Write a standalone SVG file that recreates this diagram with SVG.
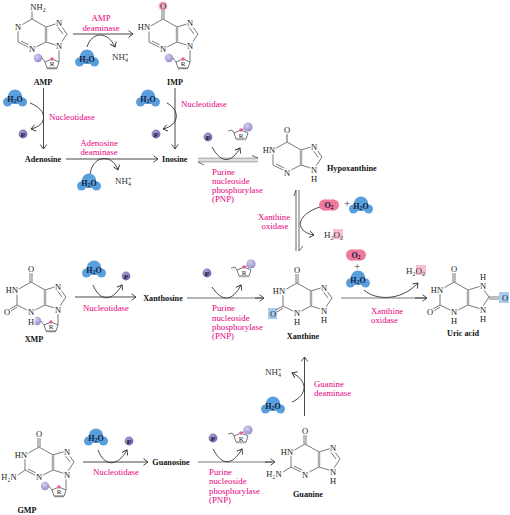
<svg xmlns="http://www.w3.org/2000/svg" width="510" height="515" viewBox="0 0 510 515">
<style>
text{font-family:"Liberation Serif","DejaVu Serif",serif;fill:#222}
.a{font-size:8.500px;text-anchor:middle;paint-order:stroke;stroke:#fff;stroke-width:2.5px}
.n{font-size:9px;fill:#333}
.b{font-size:8.200px;font-weight:bold;fill:#111}
.c{text-anchor:middle}
.p{font-size:8.800px;fill:#e6007e}
.w{font-size:8px;font-weight:bold;text-anchor:middle;fill:#102040}
.pt{font-size:7px;font-weight:bold;text-anchor:middle;fill:#111}
.r{font-size:7px;text-anchor:middle;fill:#222}
.s{font-size:6px}
.l{fill:none;stroke:#444;stroke-width:.8}
.h{fill:none;stroke:#bbb;stroke-width:1.8}
.t{fill:none;stroke:#333;stroke-width:.9;marker-end:url(#ah)}
.bd{fill:none;stroke:#555;stroke-width:.8}
</style>
<defs>
<marker id="ah" markerUnits="userSpaceOnUse" markerWidth="9" markerHeight="9" refX="5.500" refY="4" orient="auto"><path d="M1,.7 L5.500,4 L1,7.300" fill="none" stroke="#333" stroke-width=".9"/></marker>
<radialGradient id="ball" cx=".4" cy=".35" r=".7"><stop offset="0" stop-color="#d4d0ee"/><stop offset="1" stop-color="#9088c8"/></radialGradient>
<radialGradient id="pball" cx=".4" cy=".35" r=".7"><stop offset="0" stop-color="#a8a0d8"/><stop offset="1" stop-color="#6a60a8"/></radialGradient>
<g id="ring"><path class="bd" d="M0,0 L-14,8 L-14,23 L0,30 L14,23 L14,8 Z M14,8 L27,4 L35,15 L27,27 L14,23"/><path d="M14,9 V22" stroke="#aaa" stroke-width="2.500" fill="none"/></g>
<g id="rib"><path class="bd" d="M27,30 V43 L25,49 M20,40 L27,43 M25,49 H15 L13,43 L20,40 M13,43 L10,39"/><path d="M15,49.500 H25" stroke="#888" stroke-width="1.500"/><circle cx="6" cy="39" r="4.200" fill="url(#ball)"/><circle cx="20" cy="40" r="1.800" fill="#e8609a"/></g>
<g id="rib2"><path class="bd" d="M0,-5 L7,-2 L5,4 H-5 L-7,-2 L0,-5 M-7,-2 L-9,-5 L-13,-4 M0,-5 L5,-7"/><path d="M-5,4.500 H5" stroke="#aaa" stroke-width="1.500"/><circle cx="7" cy="-8" r="4.600" fill="url(#ball)"/><circle cx="0" cy="-5" r="1.800" fill="#e8609a"/></g>
<g id="cloud" fill="#5a9fdc"><circle cx="0" cy="-2.500" r="7"/><circle cx="-7.500" cy="3" r="4.500"/><circle cx="7.500" cy="3" r="4.500"/><rect x="-8" y="-2" width="16" height="7" rx="2"/></g>
<g id="o2b" fill="#ef7a9c"><circle cx="-4.500" cy="0" r="5.500"/><circle cx="4.500" cy="0" r="5.500"/><rect x="-5" y="-5.500" width="10" height="11"/></g>
<circle id="pb" r="4.400" fill="url(#pball)"/>
</defs>

<g id="connectors">
<path class="t" d="M73,34 H133"/>
<path class="t" d="M87,47 C92,31 108,31 115,47"/>
<path class="t" d="M43.500,88 V149"/>
<path class="t" d="M30,103 C48,110 48,125 31,129"/>
<path class="t" d="M66,159 H158"/>
<path class="t" d="M90,175 C92,155 112,153 118,170"/>
<path class="t" d="M175,88 V149"/>
<path class="t" d="M167,103 C180,110 180,125 163,129"/>
<path class="h" d="M198,158.500 H258"/><path class="l" d="M258,158 L252,155.500"/>
<path class="h" d="M198,161.500 H258"/><path class="l" d="M198,162 L204,165"/>
<path class="t" d="M212,147 C222,165 232,162 240,148"/>
<path class="l" d="M296,251 V190 L294,196"/>
<path class="l" d="M299,190 V251 L303,246"/>
<path class="t" d="M320,207 C295,215 295,232 314,235"/>
<path class="h" d="M341,298 H426"/><path class="t" d="M415,298 H427"/>
<path class="t" d="M364,290 C375,300 400,302 418,283"/>
<path class="t" d="M304.500,416 V357"/>
<path class="t" d="M292,402 C308,395 308,380 292,373"/>
<path class="t" d="M75,297 H136"/>
<path class="t" d="M93,285 C100,302 112,302 122,285"/>
<path class="l" d="M187,298 H250"/><path class="h" d="M222,298 H262"/><path class="t" d="M255,298 H264"/>
<path class="t" d="M212,287 C222,302 232,302 241,285"/>
<path class="t" d="M83,462 H148"/>
<path class="t" d="M98,450 C105,468 118,466 127,450"/>
<path class="h" d="M198,462 H272"/><path class="t" d="M265,462 H275"/>
<path class="t" d="M213,449 C222,466 232,466 242,449"/>
</g>

<g id="amp" transform="translate(32,19)"><use href="#ring"/><use href="#rib"/><path class="bd" d="M0,0 V-8 M-11,22 L0,27.500 M25,7 L31,15"/>
<text class="a" x="6" y="-9">NH<tspan class="s" dy="1.500">2</tspan></text><text class="a" x="-14" y="11">N</text><text class="a" x="0" y="33">N</text><text class="a" x="27" y="7">N</text><text class="a" x="27" y="30">N</text><text class="r" x="20" y="46.500">R</text></g>
<text id="amp-label" class="b c" x="43" y="85">AMP</text>

<circle cx="163" cy="6" r="4.500" fill="#f7b0c0"/>
<g id="imp" transform="translate(163,19)"><use href="#ring"/><use href="#rib"/><path class="bd" d="M-1,0 V-9 M1,0 V-9 M-11,22 L0,27.500 M25,7 L31,15"/>
<text class="a" x="0" y="-10" style="stroke:none">O</text><text class="a" x="-19" y="11">HN</text><text class="a" x="0" y="33">N</text><text class="a" x="27" y="7">N</text><text class="a" x="27" y="30">N</text><text class="r" x="20" y="46.500">R</text></g>
<text id="imp-label" class="b c" x="175" y="85">IMP</text>

<g id="hypoxanthine" transform="translate(287,142)"><use href="#ring"/><path d="M0,0 V-8" stroke="#aaa" stroke-width="2" fill="none"/><path class="bd" d="M-11,22 L0,27.500 M25,7 L31,15"/>
<text class="a" x="0" y="-9">O</text><text class="a" x="-18" y="11">HN</text><text class="a" x="0" y="34">N</text><text class="a" x="27" y="8">N</text><text class="a" x="27" y="30.500">N</text><text class="a" x="27" y="39.500">H</text></g>
<text id="hypoxanthine-label" class="b" x="327" y="171">Hypoxanthine</text>

<g id="xmp" transform="translate(31,282)"><use href="#ring"/><use href="#rib"/><path class="bd" d="M-1,0 V-9 M1,0 V-9 M-14,23 L-21,27 M-14,25 L-20,29 M25,7 L31,15"/>
<text class="a" x="0" y="-10">O</text><text class="a" x="-19" y="11">HN</text><text class="a" x="-24" y="33">O</text><text class="a" x="0" y="33">N</text><text class="a" x="0" y="43">H</text><text class="a" x="27" y="8">N</text><text class="a" x="27" y="31">N</text><text class="r" x="20" y="47">R</text></g>
<text id="xmp-label" class="b c" x="34" y="342">XMP</text>

<rect x="268" y="308" width="9" height="11" fill="#a8cdf0"/>
<g id="xanthine" transform="translate(297,283)"><use href="#ring"/><path class="bd" d="M-1,0 V-9 M1,0 V-9 M-14,23 L-21,27 M-14,25 L-20,29 M25,7 L31,15"/>
<text class="a" x="0" y="-10">O</text><text class="a" x="-18" y="11">HN</text><text class="a" x="-24" y="34" style="stroke:none">O</text><text class="a" x="0" y="32.500">N</text><text class="a" x="0" y="41.500">H</text><text class="a" x="27" y="8">N</text><text class="a" x="27" y="30.500">N</text><text class="a" x="27" y="39.500">H</text></g>
<text id="xanthine-label" class="b c" x="303" y="339">Xanthine</text>

<rect x="499" y="292" width="10" height="11" fill="#a8cdf0"/>
<g id="uric-acid" transform="translate(454,282)"><use href="#ring"/><path class="bd" d="M-1,0 V-9 M1,0 V-9 M-14,23 L-21,27 M-14,25 L-20,29 M35,15 H45 M35,17 H45"/>
<text class="a" x="0" y="-10">O</text><text class="a" x="-17" y="11">HN</text><text class="a" x="-24" y="33">O</text><text class="a" x="0" y="33">N</text><text class="a" x="0" y="42">H</text><text class="a" x="29" y="7">N</text><text class="a" x="29" y="-2">H</text><text class="a" x="29" y="31">N</text><text class="a" x="29" y="40">H</text><text class="a" x="51" y="19" style="stroke:none">O</text></g>
<text id="uric-acid-label" class="b c" x="463" y="336">Uric acid</text>

<g id="gmp" transform="translate(39,447)"><use href="#ring"/><use href="#rib"/><path class="bd" d="M-1,0 V-9 M1,0 V-9 M-14,23 L-21,28 M-11,22 L0,27.500 M25,7 L31,15"/>
<text class="a" x="0" y="-10">O</text><text class="a" x="-18" y="11">HN</text><text class="a" x="-30" y="33">H<tspan class="s" dy="1.500">2</tspan><tspan dy="-1.500">N</tspan></text><text class="a" x="0" y="33">N</text><text class="a" x="28" y="8">N</text><text class="a" x="28" y="31">N</text><text class="r" x="20" y="47">R</text></g>
<text id="gmp-label" class="b c" x="27" y="513">GMP</text>

<g id="guanine" transform="translate(305,444)"><use href="#ring"/><path class="bd" d="M-1,0 V-9 M1,0 V-9 M-14,23 L-22,28 M-11,22 L0,27.500 M25,7 L31,15"/>
<text class="a" x="0" y="-10">O</text><text class="a" x="-18" y="11">HN</text><text class="a" x="-31" y="33">H<tspan class="s" dy="1.500">2</tspan><tspan dy="-1.500">N</tspan></text><text class="a" x="0" y="34">N</text><text class="a" x="28" y="7">N</text><text class="a" x="28" y="30.500">N</text><text class="a" x="28" y="39.500">H</text></g>
<text id="guanine-label" class="b c" x="308" y="497">Guanine</text>

<text id="adenosine" class="b c" x="43" y="162">Adenosine</text>
<text id="inosine" class="b" x="162" y="162">Inosine</text>
<text id="xanthosine" class="b c" x="163" y="301">Xanthosine</text>
<text id="guanosine" class="b c" x="171" y="465">Guanosine</text>

<g id="water-1" transform="translate(87,59)"><use href="#cloud"/><text class="w" y="2.500">H<tspan class="s" dy="1.500">2</tspan><tspan dy="-1.500">O</tspan></text></g>
<g id="water-2" transform="translate(15,99)"><use href="#cloud"/><text class="w" y="2.500">H<tspan class="s" dy="1.500">2</tspan><tspan dy="-1.500">O</tspan></text></g>
<g id="water-3" transform="translate(148,99)"><use href="#cloud"/><text class="w" y="2.500">H<tspan class="s" dy="1.500">2</tspan><tspan dy="-1.500">O</tspan></text></g>
<g id="water-4" transform="translate(89,183)"><use href="#cloud"/><text class="w" y="2.500">H<tspan class="s" dy="1.500">2</tspan><tspan dy="-1.500">O</tspan></text></g>
<g id="water-5" transform="translate(94,270)"><use href="#cloud"/><text class="w" y="2.500">H<tspan class="s" dy="1.500">2</tspan><tspan dy="-1.500">O</tspan></text></g>
<g id="water-6" transform="translate(361,206)"><use href="#cloud"/><text class="w" y="2.500">H<tspan class="s" dy="1.500">2</tspan><tspan dy="-1.500">O</tspan></text></g>
<g id="water-7" transform="translate(358,280)"><use href="#cloud"/><text class="w" y="2.500">H<tspan class="s" dy="1.500">2</tspan><tspan dy="-1.500">O</tspan></text></g>
<g id="water-8" transform="translate(273,406)"><use href="#cloud"/><text class="w" y="2.500">H<tspan class="s" dy="1.500">2</tspan><tspan dy="-1.500">O</tspan></text></g>
<g id="water-9" transform="translate(96,438)"><use href="#cloud"/><text class="w" y="2.500">H<tspan class="s" dy="1.500">2</tspan><tspan dy="-1.500">O</tspan></text></g>

<g id="p-1" transform="translate(23,134)"><use href="#pb"/><text class="pt" y="2.500">P</text></g>
<g id="p-2" transform="translate(156,134)"><use href="#pb"/><text class="pt" y="2.500">P</text></g>
<g id="p-3" transform="translate(208,137)"><use href="#pb"/><text class="pt" y="2.500">P</text></g>
<g id="p-4" transform="translate(126,276)"><use href="#pb"/><text class="pt" y="2.500">P</text></g>
<g id="p-5" transform="translate(207,273)"><use href="#pb"/><text class="pt" y="2.500">P</text></g>
<g id="p-6" transform="translate(129,441)"><use href="#pb"/><text class="pt" y="2.500">P</text></g>
<g id="p-7" transform="translate(213,438)"><use href="#pb"/><text class="pt" y="2.500">P</text></g>

<g id="ribose-p-1" transform="translate(241,135)"><use href="#rib2"/><text class="r" y="3">R</text></g>
<g id="ribose-p-2" transform="translate(244,272)"><use href="#rib2"/><text class="r" y="3">R</text></g>
<g id="ribose-p-3" transform="translate(241,438)"><use href="#rib2"/><text class="r" y="3">R</text></g>

<g id="o2-1" transform="translate(329,205)"><use href="#o2b"/><text class="w" y="2.500">O<tspan class="s" dy="1.500">2</tspan></text></g>
<g id="o2-2" transform="translate(356,255)"><use href="#o2b"/><text class="w" y="2.500">O<tspan class="s" dy="1.500">2</tspan></text></g>
<text id="plus-1" class="n c" style="font-size:11px" x="347" y="207">+</text>
<text id="plus-2" class="n c" style="font-size:11px" x="357" y="270">+</text>

<g id="h2o2-1"><rect x="333" y="229" width="10" height="10" fill="#f9c0d0"/><text class="n" x="324" y="238">H<tspan class="s" dy="1.500">2</tspan><tspan dy="-1.500">O</tspan><tspan class="s" dy="1.500">2</tspan></text></g>
<g id="h2o2-2"><rect x="416" y="265" width="10" height="10" fill="#f9c0d0"/><text class="n" x="406" y="274">H<tspan class="s" dy="1.500">2</tspan><tspan dy="-1.500">O</tspan><tspan class="s" dy="1.500">2</tspan></text></g>

<g id="nh4-1"><text class="n" x="112" y="60">NH<tspan class="s" dy="-3">+</tspan><tspan class="s" dy="5" dx="-3.400">4</tspan></text></g>
<g id="nh4-2"><text class="n" x="115" y="184">NH<tspan class="s" dy="-3">+</tspan><tspan class="s" dy="5" dx="-3.400">4</tspan></text></g>
<g id="nh4-3"><text class="n" x="265" y="375">NH<tspan class="s" dy="-3">+</tspan><tspan class="s" dy="5" dx="-3.400">4</tspan></text></g>

<g id="enzyme-labels">
<text class="p c" x="101" y="21">AMP</text><text class="p c" x="101" y="31">deaminase</text>
<text class="p" x="49" y="120">Nucleotidase</text>
<text class="p" x="181" y="107">Nucleotidase</text>
<text class="p c" x="99" y="146">Adenosine</text><text class="p c" x="99" y="155">deaminase</text>
<text class="p" x="212" y="175">Purine</text><text class="p" x="212" y="184">nucleoside</text><text class="p" x="212" y="193">phosphorylase</text><text class="p" x="212" y="202">(PNP)</text>
<text class="p c" x="274" y="220">Xanthine</text><text class="p c" x="275" y="229">oxidase</text>
<text class="p" x="83" y="311">Nucleotidase</text>
<text class="p" x="212" y="311">Purine</text><text class="p" x="212" y="321">nucleoside</text><text class="p" x="212" y="330">phosphorylase</text><text class="p" x="212" y="339">(PNP)</text>
<text class="p" x="371" y="314">Xanthine</text><text class="p" x="371" y="323">oxidase</text>
<text class="p" x="314" y="387">Guanine</text><text class="p" x="314" y="396">deaminase</text>
<text class="p" x="93" y="475">Nucleotidase</text>
<text class="p" x="209" y="475">Purine</text><text class="p" x="209" y="484">nucleoside</text><text class="p" x="209" y="494">phosphorylase</text><text class="p" x="209" y="503">(PNP)</text>
</g>
</svg>
